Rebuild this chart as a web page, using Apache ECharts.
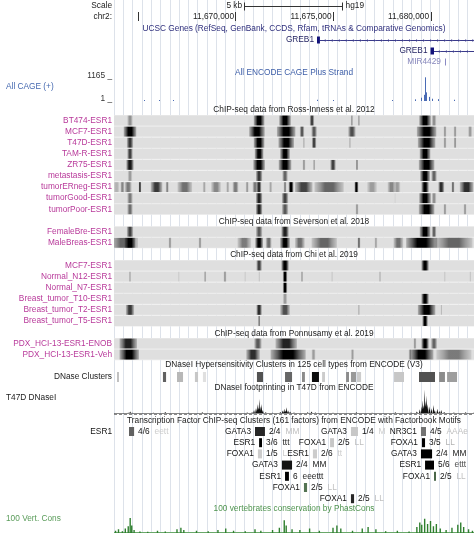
<!DOCTYPE html>
<html>
<head>
<meta charset="utf-8">
<script src="https://cdn.jsdelivr.net/npm/echarts@6/dist/echarts.min.js"></script>
<style>
  html, body { margin: 0; padding: 0; background: #fff; }
  #chart { width: 474px; height: 533px; }
</style>
</head>
<body>
<div id="chart"></div>
<script>
// chr2 window shown, in kb
const region = [11663.77, 11682.23];

// ruler
const rulerTicks = [11665, 11670, 11675, 11680];
const rulerLabels = ['', '11,670,000', '11,675,000', '11,680,000'];
const scaleBarKb = [11670.44, 11675.44];

// genes (+ strand, run past the right edge)
const geneNames = ['GREB1', 'GREB1'];
const geneStart = [11674.18, 11680.00];
const geneEnd = [11674.33, 11680.18];
const mirName = 'MIR4429';
const mirPos = 11680.74;

// ENCODE CAGE plus strand [kb, reads]
const cage = [[11665.3, 4], [11666.1, 4], [11666.8, 5], [11674.2, 60], [11675.0, 40], [11678.0, 20],
  [11679.2, 80], [11679.5, 160], [11679.65, 300], [11679.72, 1150], [11679.78, 420], [11679.9, 200],
  [11680.1, 110], [11680.4, 90], [11681.2, 60]];
const cageMax = 1165;

// ChIP-seq density tracks: peaks as [center kb, width kb, darkness]
const rossLabels = ['BT474-ESR1', 'MCF7-ESR1', 'T47D-ESR1', 'TAM-R-ESR1', 'ZR75-ESR1',
  'metastasis-ESR1', 'tumorERneg-ESR1', 'tumorGood-ESR1', 'tumorPoor-ESR1'];
const rossPeaks = [
  [[11664.59, 0.28, 0.35], [11671.21, 0.55, 1], [11672.54, 0.6, 1], [11673.92, 0.22, 0.7], [11675.97, 0.1, 0.35], [11676.33, 0.1, 0.3], [11679.72, 0.6, 1], [11680.18, 0.22, 0.35]],
  [[11664.59, 0.65, 1], [11671.1, 0.8, 1], [11672.6, 0.95, 1], [11673.41, 0.22, 0.6], [11674.03, 0.28, 0.6], [11675.97, 0.38, 0.65], [11679.8, 1.0, 1], [11680.74, 0.15, 0.3], [11681.26, 0.15, 0.3], [11682.03, 0.2, 0.3]],
  [[11664.59, 0.32, 0.75], [11671.21, 0.55, 1], [11672.6, 0.8, 1], [11673.51, 0.08, 0.3], [11674.03, 0.22, 0.7], [11675.87, 0.08, 0.3], [11679.8, 0.9, 1], [11680.74, 0.15, 0.3], [11681.26, 0.12, 0.35]],
  [[11664.59, 0.28, 0.7], [11671.21, 0.45, 1], [11672.54, 0.5, 1], [11679.72, 0.55, 1]],
  [[11664.59, 0.38, 0.9], [11671.21, 0.6, 1], [11672.54, 0.65, 1], [11673.51, 0.15, 0.3], [11674.03, 0.1, 0.3], [11675.0, 0.28, 0.7], [11676.23, 0.1, 0.45], [11679.8, 0.8, 1]],
  [[11664.59, 0.22, 0.3], [11671.21, 0.32, 0.75], [11672.54, 0.28, 0.55], [11679.72, 0.5, 1], [11680.18, 0.28, 0.55]],
  [[11663.9, 0.3, 0.2], [11664.2, 0.2, 0.4], [11664.5, 0.35, 0.45], [11665.1, 0.12, 0.8], [11665.95, 0.6, 0.75], [11666.5, 0.15, 0.4],
   [11667.4, 0.75, 0.5], [11668.4, 0.15, 0.25], [11669.0, 0.5, 0.4], [11669.6, 0.15, 0.25], [11670.0, 0.3, 0.45], [11670.6, 0.15, 0.3],
   [11671.0, 0.25, 0.45], [11671.2, 0.25, 0.8], [11671.8, 0.15, 0.25], [11672.54, 0.15, 0.4], [11672.85, 0.25, 1], [11673.5, 0.9, 0.7],
   [11674.8, 1.5, 0.55], [11676.2, 0.2, 1], [11677.0, 0.5, 0.3], [11678.0, 0.4, 0.4], [11678.3, 0.3, 0.3], [11679.72, 0.38, 1],
   [11680.55, 0.3, 0.8], [11681.15, 0.15, 0.5], [11681.85, 0.7, 0.8]],
  [[11664.59, 0.28, 0.45], [11671.21, 0.32, 0.85], [11672.54, 0.32, 0.7], [11678.18, 0.05, 0.25], [11679.72, 0.6, 1], [11680.18, 0.22, 0.35]],
  [[11664.59, 0.28, 0.5], [11671.21, 0.32, 0.85], [11672.54, 0.32, 0.6], [11676.23, 0.15, 0.3], [11679.8, 0.8, 1], [11680.74, 0.15, 0.3], [11681.77, 0.15, 0.3]]
];
const severLabels = ['FemaleBre-ESR1', 'MaleBreas-ESR1'];
const severPeaks = [
  [[11664.59, 0.32, 0.7], [11671.21, 0.32, 0.6], [11672.54, 0.38, 0.85], [11679.72, 0.55, 1], [11680.18, 0.22, 0.55]],
  [[11664.3, 1.4, 0.55], [11664.59, 0.55, 1], [11666.64, 0.15, 0.3], [11668.18, 0.15, 0.3], [11670.45, 0.7, 0.45], [11671.21, 0.4, 1],
   [11671.7, 0.3, 0.5], [11672.54, 0.5, 1], [11673.3, 0.5, 0.5], [11674.55, 1.3, 0.55], [11676.33, 0.15, 0.5], [11677.2, 0.15, 0.25],
   [11678.35, 0.5, 0.5], [11679.55, 1.6, 1], [11681.2, 1.9, 0.55]]
];
const chiLabels = ['MCF7-ESR1', 'Normal_N12-ESR1', 'Normal_N7-ESR1', 'Breast_tumor_T10-ESR1', 'Breast_tumor_T2-ESR1', 'Breast_tumor_T5-ESR1'];
const chiPeaks = [
  [[11671.21, 0.28, 0.7], [11672.54, 0.38, 1], [11679.72, 0.38, 1]],
  [[11664.59, 0.1, 0.25], [11667.1, 0.06, 0.25], [11668.44, 0.1, 0.3], [11669.46, 0.15, 0.3], [11670.49, 0.06, 0.25], [11671.21, 0.06, 0.3],
   [11672.54, 0.22, 1], [11673.41, 0.1, 0.3], [11674.95, 0.06, 0.3], [11677.41, 0.08, 0.3], [11680.74, 0.06, 0.3], [11682.03, 0.06, 0.3]],
  [[11672.54, 0.22, 1]],
  [[11672.54, 0.22, 0.3], [11679.72, 0.38, 1]],
  [[11664.59, 0.42, 0.75], [11671.21, 0.28, 0.8], [11672.54, 0.5, 0.65], [11676.33, 0.08, 0.3], [11679.8, 0.9, 1], [11680.55, 0.06, 0.25]],
  [[11671.21, 0.1, 0.5], [11679.72, 0.28, 1]]
];
const ponLabels = ['PDX_HCI-13-ESR1-ENOB', 'PDX_HCI-13-ESR1-Veh'];
const ponPeaks = [
  [[11664.5, 0.9, 0.85], [11671.15, 0.38, 0.6], [11672.6, 1.1, 0.85], [11679.2, 0.15, 0.3], [11679.72, 0.38, 1], [11680.18, 0.3, 0.55]],
  [[11664.55, 1.0, 1], [11670.9, 0.7, 0.8], [11672.7, 1.8, 1], [11674.0, 0.2, 0.3], [11676.0, 0.15, 0.3], [11678.95, 0.15, 0.3], [11679.55, 1.2, 1], [11681.2, 1.8, 0.45]]
];

// DNase clusters [start kb, end kb, darkness]
const dnaseClusters = [
  [11663.93, 11664.02, 0.28], [11666.28, 11666.44, 0.62], [11667.00, 11667.31, 0.28], [11667.92, 11668.08, 0.22],
  [11668.33, 11668.49, 0.12], [11671.10, 11671.41, 0.68], [11672.54, 11672.90, 0.6], [11673.41, 11673.56, 0.45],
  [11673.92, 11674.28, 0.95], [11674.44, 11674.59, 0.2], [11675.67, 11675.82, 0.45], [11675.92, 11676.18, 0.4],
  [11676.23, 11676.44, 0.2], [11678.13, 11678.64, 0.22], [11679.41, 11680.23, 0.68], [11680.44, 11680.74, 0.45],
  [11680.85, 11681.36, 0.38]
];

// T47D DNaseI signal [kb, relative]
const t47d = [[11663.8, 0.02], [11664.5, 0.03], [11664.6, 0.08], [11664.7, 0.03], [11665.8, 0.03], [11666.4, 0.06], [11666.5, 0.02],
  [11667.6, 0.03], [11668.3, 0.05], [11668.4, 0.02], [11669.6, 0.03], [11670.6, 0.04], [11670.85, 0.05], [11670.95, 0.15],
  [11671.05, 0.22], [11671.12, 0.4], [11671.17, 0.25], [11671.22, 0.6], [11671.27, 0.3], [11671.33, 0.4], [11671.4, 0.15],
  [11671.55, 0.05], [11671.9, 0.03], [11672.3, 0.06], [11672.42, 0.12], [11672.5, 0.2], [11672.56, 0.12], [11672.62, 0.26],
  [11672.7, 0.12], [11672.8, 0.08], [11673.0, 0.04], [11673.7, 0.05], [11673.9, 0.08], [11674.1, 0.04], [11675.0, 0.03],
  [11676.2, 0.05], [11677.0, 0.03], [11678.2, 0.05], [11679.0, 0.04], [11679.3, 0.08], [11679.45, 0.18], [11679.55, 0.3],
  [11679.6, 0.55], [11679.65, 0.35], [11679.7, 1.0], [11679.75, 0.5], [11679.8, 0.75], [11679.86, 0.4], [11679.95, 0.3],
  [11680.05, 0.22], [11680.15, 0.35], [11680.22, 0.15], [11680.35, 0.2], [11680.45, 0.1], [11680.55, 0.15], [11680.7, 0.06],
  [11681.2, 0.04], [11681.8, 0.05], [11682.2, 0.03]];

// TF clusters: name, start, end, row, score darkness, cells, motif, motif darkness, green box
const tfClusters = [
  ['ESR1', 11664.54, 11664.80, 0, 0.62, '4/6', 'eett', 0.2, 0],
  ['GATA3', 11671.00, 11671.51, 0, 0.85, '2/4', 'MM', 0.25, 0],
  ['GATA3', 11675.92, 11676.28, 0, 0.22, '1/4', 'M', 0.2, 0],
  ['NR3C1', 11679.51, 11679.77, 0, 0.55, '4/5', 'AAAe', 0.25, 0],
  ['ESR1', 11671.21, 11671.36, 1, 1.0, '3/6', 'ttt', 0.85, 0],
  ['FOXA1', 11674.85, 11675.05, 1, 0.22, '2/5', 'LL', 0.25, 0],
  ['FOXA1', 11679.56, 11679.72, 1, 1.0, '3/5', 'LL', 0.3, 0],
  ['FOXA1', 11671.15, 11671.36, 2, 0.2, '1/5', 'L', 0.2, 0],
  ['ESR1', 11673.97, 11674.18, 2, 0.2, '2/6', 'tt', 0.2, 0],
  ['GATA3', 11679.51, 11680.08, 2, 1.0, '2/4', 'MM', 0.9, 0],
  ['GATA3', 11672.38, 11672.90, 3, 0.92, '2/4', 'MM', 0.9, 0],
  ['ESR1', 11679.72, 11680.18, 3, 1.0, '5/6', 'ettt', 0.7, 0],
  ['ESR1', 11672.54, 11672.74, 4, 1.0, '6', 'eeettt', 0.85, 0],
  ['FOXA1', 11680.18, 11680.28, 4, 0.6, '2/5', 'LL', 0.25, 1],
  ['FOXA1', 11673.51, 11673.67, 5, 0.55, '2/5', 'LL', 0.25, 1],
  ['FOXA1', 11675.92, 11676.08, 6, 0.85, '2/5', 'LL', 0.25, 0]
];

// 100 vertebrates PhastCons [kb, score]
const phastCons = [[11663.85, 0.15], [11664.0, 0.25], [11664.2, 0.12], [11664.35, 0.3], [11664.5, 0.45], [11664.6, 1.0],
  [11664.68, 0.5], [11664.8, 0.2], [11665.1, 0.1], [11665.5, 0.08], [11666.0, 0.15], [11666.4, 0.1], [11667.0, 0.25],
  [11667.2, 0.35], [11667.35, 0.2], [11668.0, 0.15], [11668.6, 0.12], [11669.1, 0.2], [11669.5, 0.3], [11669.9, 0.15],
  [11670.5, 0.12], [11671.0, 0.25], [11671.3, 0.15], [11671.9, 0.2], [11672.25, 0.35], [11672.5, 0.85], [11672.6, 0.5],
  [11672.9, 0.25], [11673.3, 0.2], [11673.8, 0.3], [11674.3, 0.15], [11675.0, 0.35], [11675.2, 0.5], [11675.4, 0.3],
  [11676.0, 0.15], [11676.5, 0.3], [11676.8, 0.4], [11677.2, 0.25], [11677.7, 0.12], [11678.3, 0.15], [11678.9, 0.1],
  [11679.3, 0.4], [11679.45, 0.7], [11679.55, 0.55], [11679.7, 0.95], [11679.85, 0.6], [11680.0, 0.8], [11680.15, 0.45],
  [11680.3, 0.6], [11680.5, 0.3], [11680.8, 0.2], [11681.1, 0.35], [11681.4, 0.55], [11681.55, 0.7], [11681.7, 0.4],
  [11681.95, 0.25], [11682.15, 0.15]];

const trackTitles = [
  'UCSC Genes (RefSeq, GenBank, CCDS, Rfam, tRNAs & Comparative Genomics)',
  'All ENCODE CAGE Plus Strand',
  'ChIP-seq data from Ross-Inness et al. 2012',
  'ChIP-seq data from Severson et al. 2018',
  'ChIP-seq data from Chi et al. 2019',
  'ChIP-seq data from Ponnusamy et al. 2019',
  'DNaseI Hypersensitivity Clusters in 125 cell types from ENCODE (V3)',
  'DNaseI footprinting in T47D from ENCODE',
  'Transcription Factor ChIP-seq Clusters (161 factors) from ENCODE with Factorbook Motifs',
  '100 vertebrates conservation by PhastCons'
];
const sideLabels = ['Scale', 'chr2:', '1165 _', 'All CAGE (+)', '1 _', 'DNase Clusters', 'T47D DNaseI', '100 Vert. Cons'];

// ---- layout (image rows, px) and styles ----
const L = {
  scale: 6, chr: 17, geneRows: [40, 51], mir: 62, cageTop: 77, cageBase: 101,
  heatRow0: [120.5, 231.7, 265.5, 343.5], rowStep: 11.1,
  dnaseRow: 377, footBase: 413.5, footH: 24,
  tfRow0: 431.5, tfStep: 11.2, consBase: 533, consH: 15
};
const titleY = [29, 73, 110, 222, 255, 333.5, 365, 388, 420.7, 509];
const titleColor = ['#2e2e7c', '#3d5ea8', '#222', '#222', '#222', '#222', '#222', '#222', '#222', '#4f944f'];
const sideY = [6, 17, 76, 87, 98.5, 376.5, 398, 518.5];
const sideAlign = ['right', 'right', 'right', 'left', 'right', 'right', 'left', 'left'];
const sideColor = ['#222', '#222', '#333', '#4468b0', '#333', '#222', '#222', '#5a9c5a'];
const FONT = '"Liberation Sans", Arial, Helvetica, sans-serif';
const FS = 8.3;
const PINK = '#b8399a';

const heatSets = [[rossLabels, rossPeaks], [severLabels, severPeaks], [chiLabels, chiPeaks], [ponLabels, ponPeaks]];
const heatRows = [];
heatSets.forEach((set, g) => set[0].forEach((_, r) => heatRows.push([g, r])));

const chart = echarts.init(document.getElementById('chart'), null, { renderer: 'canvas' });

const txt = (x, y, s, fill, align, extra) => ({
  type: 'text', x, y,
  style: Object.assign({ text: s, fill: fill || '#000', font: FS + 'px ' + FONT, align: align || 'left', verticalAlign: 'middle' }, extra || {})
});
const crisp = (v) => Math.round(v) + 0.5;
const grayOf = (d) => { const v = Math.round(255 * (1 - d)); return `rgb(${v},${v},${v})`; };

function renderHeat(params, api) {
  const [g, r] = heatRows[params.dataIndex];
  const yc = L.heatRow0[g] + r * L.rowStep;
  const a = api.coord([region[0], yc]);
  const b = api.coord([region[1], yc]);
  const half = api.size([0, L.rowStep])[1] / 2;
  const top = a[1] - half + 0.6, h = half * 2 - 1.2;
  const children = [
    { type: 'rect', shape: { x: a[0], y: a[1] - half, width: b[0] - a[0], height: half * 2 }, style: { fill: '#ececec' } },
    { type: 'rect', shape: { x: a[0], y: top, width: b[0] - a[0], height: h }, style: { fill: '#dfdfdf' } }
  ];
  heatSets[g][1][r].forEach(([c, w, d]) => {
    const p = api.coord([c - w / 2, yc]), q = api.coord([c + w / 2, yc]);
    const k = (f) => `rgba(0,0,0,${(d * f).toFixed(3)})`;
    children.push({
      type: 'rect', shape: { x: p[0], y: top, width: Math.max(1, q[0] - p[0]), height: h },
      style: {
        fill: new echarts.graphic.LinearGradient(0, 0, 1, 0, [
          { offset: 0, color: k(0.2) },
          { offset: 0.2, color: k(0.6) },
          { offset: 0.36, color: k(1) },
          { offset: 0.64, color: k(1) },
          { offset: 0.8, color: k(0.6) },
          { offset: 1, color: k(0.2) }
        ])
      }
    });
  });
  return { type: 'group', children };
}

function renderTitles(params, api) {
  const i = params.dataIndex;
  const a = api.coord([region[0], titleY[i]]), b = api.coord([region[1], titleY[i]]);
  return txt((a[0] + b[0]) / 2, a[1], trackTitles[i], titleColor[i], 'center');
}

function renderSide(params, api) {
  const edge = api.coord([region[0], 0])[0] - 2;
  const children = sideLabels.map((s, i) =>
    txt(sideAlign[i] === 'right' ? edge : 6, api.coord([region[0], sideY[i]])[1], s, sideColor[i], sideAlign[i]));
  heatRows.forEach(([g, r]) => {
    const y = api.coord([region[0], L.heatRow0[g] + r * L.rowStep])[1];
    children.push(txt(edge, y, heatSets[g][0][r], PINK, 'right'));
  });
  return { type: 'group', children };
}

function renderRuler(params, api) {
  const children = [];
  const s0 = api.coord([scaleBarKb[0], L.scale]), s1 = api.coord([scaleBarKb[1], L.scale]);
  const y = crisp(s0[1]);
  children.push({ type: 'line', shape: { x1: crisp(s0[0]), y1: y, x2: crisp(s1[0]), y2: y }, style: { stroke: '#333', lineWidth: 1 } });
  [s0, s1].forEach(p => children.push({ type: 'line', shape: { x1: crisp(p[0]), y1: y - 4, x2: crisp(p[0]), y2: y + 4 }, style: { stroke: '#333', lineWidth: 1 } }));
  children.push(txt(s0[0] - 2, s0[1], '5 kb', '#222', 'right'));
  children.push(txt(s1[0] + 4, s1[1], 'hg19', '#222', 'left'));
  rulerTicks.forEach((t, i) => {
    const p = api.coord([t, L.chr]);
    children.push({ type: 'line', shape: { x1: crisp(p[0]), y1: p[1] - 5, x2: crisp(p[0]), y2: p[1] + 4 }, style: { stroke: '#333', lineWidth: 1 } });
    if (rulerLabels[i]) children.push(txt(p[0] - 1.5, p[1], rulerLabels[i], '#222', 'right'));
  });
  return { type: 'group', children };
}

function renderGenes(params, api) {
  const children = [];
  const navy = '#12127a';
  geneNames.forEach((name, i) => {
    const y = L.geneRows[i];
    const a = api.coord([geneStart[i], y]), b = api.coord([geneEnd[i], y]), e = api.coord([region[1], y]);
    const yy = crisp(a[1]);
    children.push({ type: 'line', shape: { x1: b[0], y1: yy, x2: e[0], y2: yy }, style: { stroke: '#3a3a8a', lineWidth: 1 } });
    for (let k = geneEnd[i] + 0.3; k < region[1]; k += 0.36) {
      const x = api.coord([k, y])[0];
      children.push({ type: 'polyline', shape: { points: [[x - 1, yy - 1.5], [x + 0.5, yy], [x - 1, yy + 1.5]] }, style: { stroke: '#6a6aa8', lineWidth: 0.7, fill: null } });
    }
    children.push({ type: 'rect', shape: { x: a[0], y: a[1] - 3.5, width: Math.max(2.5, b[0] - a[0]), height: 7 }, style: { fill: navy } });
    children.push(txt(a[0] - 3, a[1], name, '#1f1f5f', 'right'));
  });
  const m = api.coord([mirPos, L.mir]);
  children.push({ type: 'line', shape: { x1: crisp(m[0]), y1: m[1] - 3.5, x2: crisp(m[0]), y2: m[1] + 3.5 }, style: { stroke: '#8a8ac4', lineWidth: 1 } });
  children.push(txt(m[0] - 4, m[1], mirName, '#8585bb', 'right'));
  return { type: 'group', children };
}

function renderCage(params, api) {
  const children = [];
  const span = api.size([0, L.cageBase - L.cageTop])[1];
  cage.forEach(([pos, v]) => {
    const p = api.coord([pos, L.cageBase]);
    const h = Math.max(1, v / cageMax * span);
    children.push({ type: 'line', shape: { x1: crisp(p[0]), y1: p[1], x2: crisp(p[0]), y2: p[1] - h }, style: { stroke: '#4a6bb5', lineWidth: 1 } });
  });
  return { type: 'group', children };
}

function renderDnase(params, api) {
  const [s, e, d] = dnaseClusters[params.dataIndex];
  const a = api.coord([s, L.dnaseRow]), b = api.coord([e, L.dnaseRow]);
  return { type: 'rect', shape: { x: a[0], y: a[1] - 5, width: Math.max(1.5, b[0] - a[0]), height: 10 }, style: { fill: grayOf(d) } };
}

function renderFoot(params, api) {
  const base = api.coord([region[0], L.footBase]);
  const end = api.coord([region[1], L.footBase]);
  const span = api.size([0, L.footH])[1];
  const pts = [[base[0], base[1]]];
  t47d.forEach(([pos, v]) => {
    const p = api.coord([pos, L.footBase]);
    pts.push([p[0] - 0.8, p[1] - 0.5], [p[0], p[1] - v * span], [p[0] + 0.8, p[1] - 0.5]);
  });
  pts.push([end[0], end[1]]);
  return {
    type: 'group', children: [
      { type: 'line', shape: { x1: base[0], y1: crisp(base[1]), x2: end[0], y2: crisp(base[1]) }, style: { stroke: '#888', lineWidth: 1, lineDash: [3, 2] } },
      { type: 'polygon', shape: { points: pts }, style: { fill: '#111' } }
    ]
  };
}

function renderTf(params, api) {
  const [name, s, e, row, d, cells, motif, md, green] = tfClusters[params.dataIndex];
  const y = L.tfRow0 + row * L.tfStep;
  const a = api.coord([s, y]), b = api.coord([e, y]);
  const left = api.coord([region[0], y])[0];
  const v = Math.round(255 * (1 - d));
  const fill = green ? `rgb(${Math.round(v * 0.72)},${v},${Math.round(v * 0.72)})` : grayOf(d);
  let lx = a[0] - 4;
  if (lx - name.length * 4.6 < left) lx = left - 2;
  return {
    type: 'group', children: [
      { type: 'rect', shape: { x: a[0], y: a[1] - 4.5, width: Math.max(2, b[0] - a[0]), height: 9 }, style: { fill } },
      txt(lx, a[1], name, '#111', 'right'),
      txt(b[0] + 4, a[1], `{s|${cells}}{m|${motif}}`, '#111', 'left', {
        rich: { s: { fill: '#111', font: FS + 'px ' + FONT }, m: { fill: grayOf(md), font: FS + 'px ' + FONT, padding: [0, 0, 0, 5] } }
      })
    ]
  };
}

function renderCons(params, api) {
  const span = api.size([0, L.consH])[1];
  const children = [];
  const a = api.coord([region[0], L.consBase - 0.5]), b = api.coord([region[1], L.consBase - 0.5]);
  children.push({ type: 'line', shape: { x1: a[0], y1: a[1], x2: b[0], y2: b[1] }, style: { stroke: '#6aa86a', lineWidth: 1 } });
  phastCons.forEach(([pos, v]) => {
    const p = api.coord([pos, L.consBase]);
    children.push({ type: 'rect', shape: { x: p[0] - 0.7, y: p[1] - v * span, width: 1.4, height: v * span }, style: { fill: '#2f7f2f' } });
  });
  return { type: 'group', children };
}

const one = [[region[0], 0]];
const option = {
  animation: false,
  backgroundColor: '#fff',
  grid: { left: 114, right: 0, top: 0, bottom: 0 },
  xAxis: [
    { type: 'value', min: region[0], max: region[1], show: false },
    {
      type: 'value', min: 0, max: 360, interval: 9.3,
      axisLine: { show: false }, axisTick: { show: false }, axisLabel: { show: false },
      splitLine: { show: true, lineStyle: { color: '#dde2ea', width: 1 } }
    }
  ],
  yAxis: { type: 'value', min: 0, max: 533, inverse: true, show: false },
  series: [
    { type: 'custom', name: 'chip', renderItem: renderHeat, data: heatRows, clip: true, silent: true },
    { type: 'custom', name: 'titles', renderItem: renderTitles, data: trackTitles.map((_, i) => [region[0], titleY[i]]), clip: false, silent: true },
    { type: 'custom', name: 'side', renderItem: renderSide, data: one, clip: false, silent: true },
    { type: 'custom', name: 'ruler', renderItem: renderRuler, data: one, clip: false, silent: true },
    { type: 'custom', name: 'genes', renderItem: renderGenes, data: one, clip: true, silent: true },
    { type: 'custom', name: 'cage', renderItem: renderCage, data: one, clip: true, silent: true },
    { type: 'custom', name: 'dnase', renderItem: renderDnase, data: dnaseClusters, clip: true, silent: true },
    { type: 'custom', name: 't47d', renderItem: renderFoot, data: one, clip: true, silent: true },
    { type: 'custom', name: 'tf', renderItem: renderTf, data: tfClusters.map(t => [t[1], t[3]]), clip: false, silent: true },
    { type: 'custom', name: 'cons', renderItem: renderCons, data: one, clip: true, silent: true }
  ]
};
chart.setOption(option);
</script>
</body>
</html>
